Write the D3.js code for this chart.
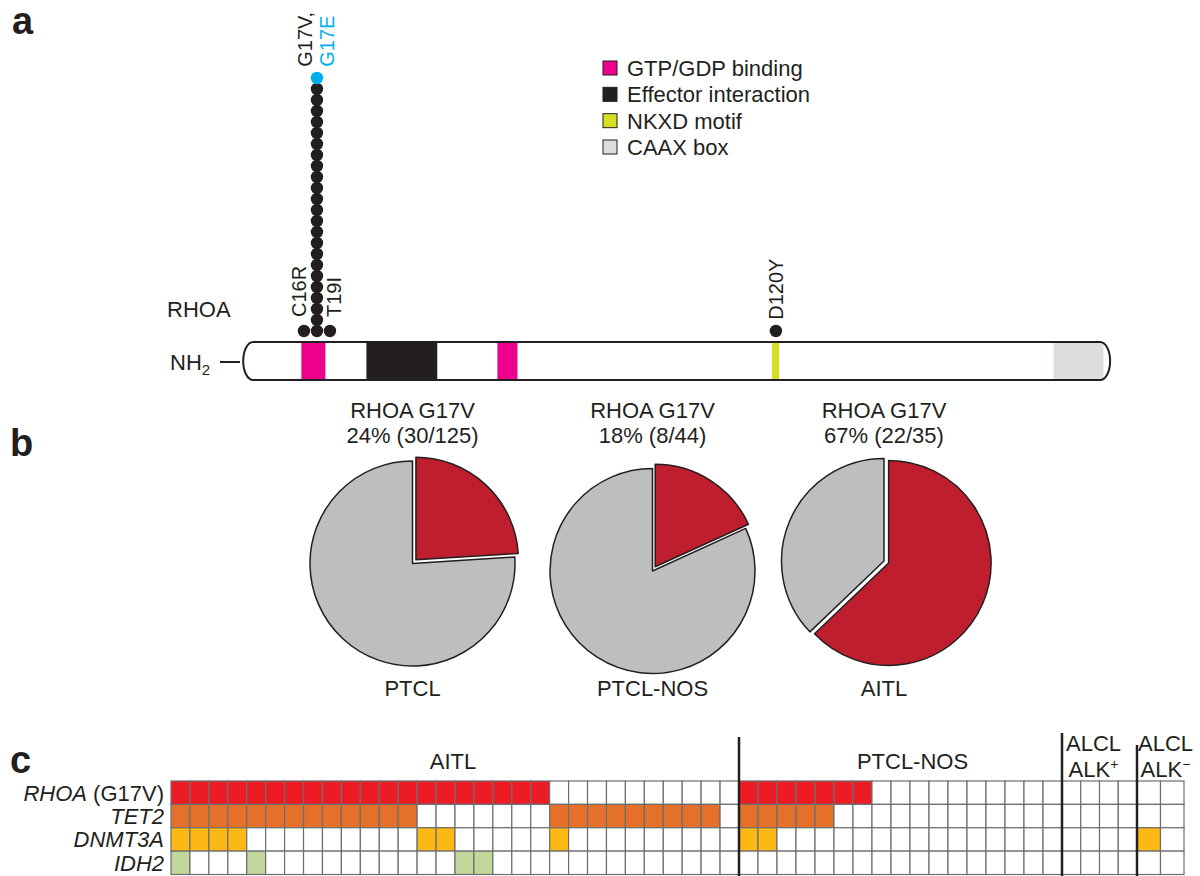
<!DOCTYPE html>
<html><head><meta charset="utf-8">
<script src="https://cdn.jsdelivr.net/npm/d3@7"></script>
<style>
body{margin:0;background:#fff}
svg{display:block}
text{font-family:"Liberation Sans",Arial,Helvetica,sans-serif;fill:#231f20}
</style>
</head><body><svg id="chart" width="1200" height="876"></svg>
<script>
// ---------- Panel a data ----------
const proteinLength = 195;
const domainTypes = ["GTP/GDP binding", "Effector interaction", "NKXD motif", "CAAX box"];
const domainColors = ["#ec008c", "#231f20", "#d7df23", "#dcddde"];
const domainType  = [0, 1, 0, 2, 3];
const domainStart = [13.5, 28.1, 57.5, 119.1, 182.3];
const domainEnd   = [18.9, 44.0, 62.0, 120.7, 193.5];

const mutSite   = ["C16", "G17", "T19", "D120"];
const mutPos    = [16, 17, 19, 120];
const mutBlack  = [1, 23, 1, 1];   // black dots (G17V etc.)
const mutBlue   = [0, 1, 0, 0];    // blue dots (G17E)
const mutLabel1 = ["C16R", "G17V,", "T19I", "D120Y"];
const mutLabel2 = ["", "G17E", "", ""];

// ---------- Panel b data ----------
const pieNames  = ["PTCL", "PTCL-NOS", "AITL"];
const pieMutant = [30, 8, 22];
const pieTotal  = [125, 44, 35];
const piePct    = ["24%", "18%", "67%"];

// ---------- Panel c data ----------
const groups     = ["AITL", "PTCL-NOS", "ALCL ALK+", "ALCL ALK−"];
const groupSizes = [30, 17, 4, 2];
const genes      = ["RHOA", "TET2", "DNMT3A", "IDH2"];
const geneSuffix = [" (G17V)", "", "", ""];
const geneColors = ["#ed1c24", "#e5702a", "#fcb913", "#c3d79b"];
// one string per gene, one character per case (1 = mutated)
const mutRHOA   = "111111111111111111110000000000" + "11111110000000000" + "0000" + "00";
const mutTET2   = "111111111111100000001111111110" + "11111000000000000" + "0000" + "00";
const mutDNMT3A = "111100000000011000001000000000" + "11000000000000000" + "0000" + "10";
const mutIDH2   = "100010000000000110000000000000" + "00000000000000000" + "0000" + "00";

// ---------- drawing ----------
const svg = d3.select("#chart");
const FONT = 22;
const MFONT = 20;

// panel letters
[["a", 12, 34], ["b", 10, 456], ["c", 10, 773]].forEach(([t, x, y]) => {
  svg.append("text").attr("x", x).attr("y", y).attr("font-size", 38)
    .attr("font-weight", "bold").text(t);
});

// ===== Panel a =====
const xA = d3.scaleLinear().domain([0, 193]).range([241.2, 1101.2]);
const barTop = 342, barBot = 380;
const gA = svg.append("g");

const domains = domainType.map((t, i) => ({t, s: domainStart[i], e: domainEnd[i]}));
gA.selectAll("rect.dom").data(domains).join("rect").attr("class", "dom")
  .attr("x", d => xA(d.s)).attr("width", d => xA(d.e) - xA(d.s))
  .attr("y", barTop + 1).attr("height", barBot - barTop - 2)
  .attr("fill", d => domainColors[d.t]);
gA.append("rect").attr("x", xA(0) + 2).attr("y", barTop)
  .attr("width", xA(proteinLength) - xA(0) - 2).attr("height", barBot - barTop)
  .attr("rx", 10).attr("ry", 19).attr("fill", "none")
  .attr("stroke", "#231f20").attr("stroke-width", 2);

// NH2 label
const nh = gA.append("text").attr("x", 170).attr("y", 370).attr("font-size", FONT);
nh.append("tspan").text("NH");
nh.append("tspan").attr("font-size", 15).attr("dy", 5).text("2");
gA.append("line").attr("x1", 220).attr("x2", 240).attr("y1", 362).attr("y2", 362)
  .attr("stroke", "#231f20").attr("stroke-width", 2);
gA.append("text").attr("x", 167).attr("y", 317).attr("font-size", FONT).text("RHOA");

// mutation dots
const dotR = 6.2, dotStep = 11.0, dotSpread = 13, baseY = 331;
const mainIdx = 1;
const mutX = mutPos.map((p, i) => {
  if (Math.abs(p - mutPos[mainIdx]) < 5) {
    const rank = i - mainIdx;
    return xA(mutPos[mainIdx]) + rank * dotSpread;
  }
  return xA(p);
});
const dots = [];
mutPos.forEach((p, i) => {
  for (let k = 0; k < mutBlack[i]; k++) dots.push({x: mutX[i], k, c: "#231f20"});
  for (let k = 0; k < mutBlue[i]; k++) dots.push({x: mutX[i], k: mutBlack[i] + k, c: "#00aeef"});
});
gA.selectAll("circle.mut").data(dots).join("circle").attr("class", "mut")
  .attr("cx", d => d.x).attr("cy", d => baseY - d.k * dotStep).attr("r", dotR)
  .attr("fill", d => d.c);

// mutation labels (rotated)
mutPos.forEach((p, i) => {
  const top = baseY - (mutBlack[i] + mutBlue[i] - 1) * dotStep - dotR - 5;
  let lx = mutX[i], ly = top;
  if (i === 0) { lx = mutX[i] - 5; ly = 317; }
  if (i === 2) { lx = mutX[i] + 4; ly = 317; }
  if (i === 1) { lx = mutX[i] - 12; }
  const t = gA.append("text").attr("font-size", MFONT)
    .attr("transform", `translate(${lx},${ly}) rotate(-90)`)
    .attr("dy", "0.35em");
  t.append("tspan").attr("x", 0).text(mutLabel1[i]);
  if (mutLabel2[i]) t.append("tspan").attr("x", 0).attr("dy", 22)
      .style("fill", "#00aeef").text(mutLabel2[i]);
});

// legend
const legY = d3.scalePoint().domain(domainTypes).range([68, 147]);
const leg = gA.selectAll("g.leg").data(domainTypes).join("g").attr("class", "leg")
  .attr("transform", d => `translate(603,${legY(d)})`);
leg.append("rect").attr("x", 0).attr("y", -7).attr("width", 14).attr("height", 14)
  .attr("fill", (d, i) => domainColors[i]).attr("stroke", "#231f20").attr("stroke-width", 1);
leg.append("text").attr("x", 24).attr("dy", "0.36em").attr("font-size", FONT).text(d => d);

// ===== Panel b =====
const pieCenters = [[412.5, 563.5], [652.5, 571], [884, 561]];
const pieR = 102.5;
const pie = d3.pie().sort(null).value(d => d);
const arc = d3.arc().innerRadius(0).outerRadius(pieR);
pieNames.forEach((name, i) => {
  const [cx, cy] = pieCenters[i];
  const g = svg.append("g").attr("transform", `translate(${cx},${cy})`);
  const arcs = pie([pieMutant[i], pieTotal[i] - pieMutant[i]]);
  g.append("path").attr("d", arc(arcs[1])).attr("fill", "#bcbec0")
    .attr("stroke", "#231f20").attr("stroke-width", 1.5).attr("stroke-linejoin", "round");
  const mid = (arcs[0].startAngle + arcs[0].endAngle) / 2;
  const off = 5;
  g.append("path").attr("d", arc(arcs[0]))
    .attr("transform", `translate(${off * Math.sin(mid)},${-off * Math.cos(mid)})`)
    .attr("fill", "#be1e2d").attr("stroke", "#231f20").attr("stroke-width", 1.5)
    .attr("stroke-linejoin", "round");
  svg.append("text").attr("x", cx).attr("y", 418).attr("text-anchor", "middle")
    .attr("font-size", FONT).text("RHOA G17V");
  svg.append("text").attr("x", cx).attr("y", 443).attr("text-anchor", "middle")
    .attr("font-size", FONT).text(`${piePct[i]} (${pieMutant[i]}/${pieTotal[i]})`);
  svg.append("text").attr("x", cx).attr("y", 696).attr("text-anchor", "middle")
    .attr("font-size", FONT).text(name);
});

// ===== Panel c =====
const groupEdges = [171, 739, 1062, 1137, 1184];
const gridTop = 781, gridBot = 874.5;
const yC = d3.scaleBand().domain(genes).range([gridTop, gridBot]);
const rows = [mutRHOA, mutTET2, mutDNMT3A, mutIDH2];
const cells = [];
let offset = 0;
groups.forEach((grp, gi) => {
  const xs = d3.scaleBand().domain(d3.range(groupSizes[gi])).range([groupEdges[gi], groupEdges[gi + 1]]);
  for (let c = 0; c < groupSizes[gi]; c++) {
    genes.forEach((gene, r) => {
      cells.push({x: xs(c), w: xs.bandwidth(), gene, r, m: rows[r][offset + c] === "1"});
    });
  }
  offset += groupSizes[gi];
});
const gC = svg.append("g");
gC.selectAll("rect.cell").data(cells).join("rect").attr("class", "cell")
  .attr("x", d => d.x).attr("y", d => yC(d.gene))
  .attr("width", d => d.w).attr("height", yC.bandwidth())
  .attr("fill", d => d.m ? geneColors[d.r] : "#fff")
  .attr("stroke", "#6d6e71").attr("stroke-width", 1.2);

genes.forEach((g, i) => {
  const t = gC.append("text").attr("x", 164).attr("y", yC(g) + yC.bandwidth() / 2)
    .attr("dy", "0.36em").attr("text-anchor", "end").attr("font-size", FONT);
  t.append("tspan").attr("font-style", "italic").text(g);
  if (geneSuffix[i]) t.append("tspan").text(geneSuffix[i]);
});

const divTops = [737, 733, 745];
[1, 2, 3].forEach((k, j) => {
  gC.append("line").attr("x1", groupEdges[k]).attr("x2", groupEdges[k])
    .attr("y1", divTops[j]).attr("y2", 876).attr("stroke", "#231f20").attr("stroke-width", 2.5);
});

gC.append("text").attr("x", (groupEdges[0] + groupEdges[1]) / 2 - 2).attr("y", 769)
  .attr("text-anchor", "middle").attr("font-size", FONT).text(groups[0]);
gC.append("text").attr("x", (groupEdges[1] + groupEdges[2]) / 2 + 12).attr("y", 769)
  .attr("text-anchor", "middle").attr("font-size", FONT).text(groups[1]);
[[2, "+"], [3, "−"]].forEach(([gi, sign]) => {
  const cx = (groupEdges[gi] + groupEdges[gi + 1]) / 2 + (gi === 3 ? 5 : -6);
  gC.append("text").attr("x", cx).attr("y", 751).attr("text-anchor", "middle")
    .attr("font-size", FONT).text("ALCL");
  const t = gC.append("text").attr("x", cx).attr("y", 777).attr("text-anchor", "middle")
    .attr("font-size", FONT);
  t.append("tspan").text("ALK");
  t.append("tspan").attr("font-size", 14).attr("dy", -8).text(sign);
});
</script>
</body></html>
